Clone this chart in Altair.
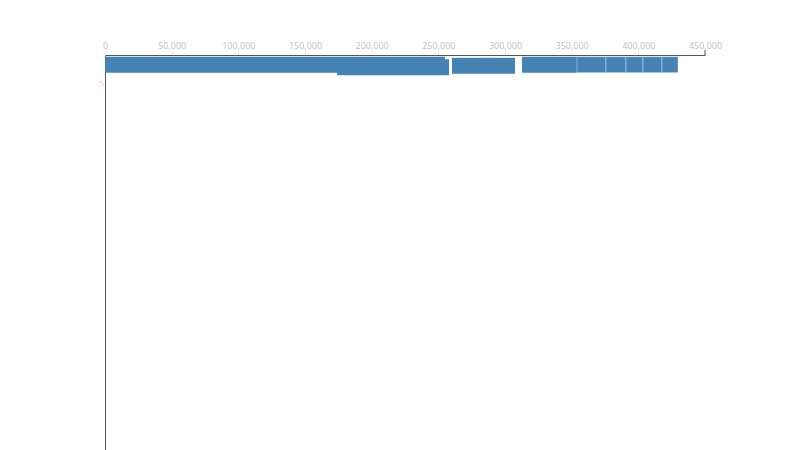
import altair as alt
import pandas as pd

labels = ["B", "A", "C", "D", "E", "F", "G", "H", "I"]
starts = [174000, 0, 260250, 312750, 354000, 375750, 390750, 403500, 417750]
ends = [258000, 255000, 307500, 354000, 375750, 390750, 403500, 417750, 429750]
lanes = [0.47, 0.3, 0.37, 0.3, 0.3, 0.3, 0.3, 0.3, 0.3]
x_max = [450000]

df = pd.DataFrame({"seg": labels, "start": starts, "end": ends, "lane": lanes,
                   "order": list(range(len(labels)))})
dmax = pd.DataFrame({"v": x_max})

xscale = alt.Scale(domain=[0, 450000], nice=False)
yscale = alt.Scale(domain=[0, 25], reverse=True, nice=False, zero=False)

bars = alt.Chart(df).mark_bar(
    color="#4682b4", stroke="#ffffff", strokeOpacity=0.6, size=16
).encode(
    x=alt.X("start:Q", scale=xscale, title=None,
            axis=alt.Axis(orient="top", format=",d", tickCount=9,
                          labelColor="#c0c0c0", labelFontSize=9,
                          labelPadding=0, labelFlush=False,
                          labelFont="Open Sans", tickColor="#f0f0f0",
                          domainColor="#555555", grid=False)),
    x2="end:Q",
    y=alt.Y("lane:Q", scale=yscale, title=None,
            axis=alt.Axis(values=[1.4], labelExpr="'-3'", labelColor="#f5d0b8",
                          labelAngle=-45, labelFontSize=8, ticks=False,
                          grid=False, domainColor="#555555")),
    strokeWidth=alt.condition("datum.start >= 354000", alt.value(0.6), alt.value(0)),
    order=alt.Order("order:Q"),
)

endtick = alt.Chart(dmax).mark_rule(color="#555555").encode(
    x=alt.X("v:Q", scale=xscale),
    y=alt.value(-5),
    y2=alt.value(0),
)

chart = alt.layer(bars, endtick).properties(
    width=600, height=400,
    autosize=alt.AutoSizeParams(type="none"),
    padding={"left": 97, "top": 47, "right": 40, "bottom": 10},
).configure_view(stroke=None)

chart.save("out.html", embed_options={"renderer": "svg", "actions": False})
